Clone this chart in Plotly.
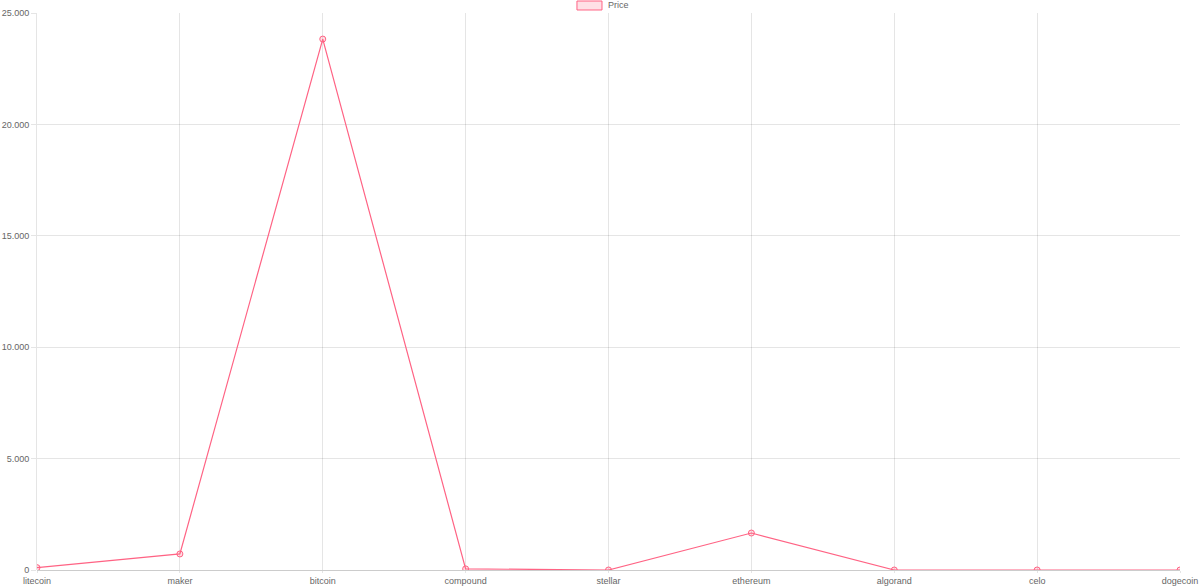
import plotly.graph_objects as go

coins = ['litecoin', 'maker', 'bitcoin', 'compound', 'stellar',
         'ethereum', 'algorand', 'celo', 'dogecoin']
prices = [105, 720, 23830, 50, 0.1, 1660, 0.2, 0.7, 0.07]

pink = 'rgb(255,99,132)'
grid = 'rgba(0,0,0,0.1)'
font = 'Liberation Sans, Arial, sans-serif'

fig = go.Figure()
fig.add_trace(go.Scatter(
    x=coins, y=prices, mode='lines+markers', name='Price',
    line=dict(color=pink, width=1.2),
    marker=dict(size=6, color='rgba(255,99,132,0.2)',
                line=dict(color=pink, width=1)),
    showlegend=False))

# legend box + label above the plot
fig.add_shape(type='rect', xref='paper', yref='paper',
              x0=0.4724, x1=0.4943, y0=1.0054, y1=1.0215,
              line=dict(color=pink, width=1),
              fillcolor='rgba(255,99,132,0.2)')
fig.add_annotation(text='Price', xref='paper', yref='paper',
                   x=0.4978, y=1.0135, xanchor='left', yanchor='middle',
                   showarrow=False, font=dict(family=font, size=9, color='#666'))

fig.update_layout(
    width=1200, height=587,
    margin=dict(l=37, r=20, t=13, b=17),
    paper_bgcolor='white', plot_bgcolor='white',
    separators=',.',
    font=dict(family=font, size=9, color='#666'),
)
fig.update_xaxes(
    range=[0, 8], showgrid=True, gridcolor=grid, gridwidth=1,
    showline=False, zeroline=False,
    ticks='outside', ticklen=2, tickcolor=grid,
    tickfont=dict(size=9, color='#666'), automargin=False)
fig.update_yaxes(
    range=[0, 25000], dtick=5000, tickformat=',d',
    showgrid=True, gridcolor=grid, gridwidth=1,
    zeroline=True, zerolinecolor='rgba(0,0,0,0.2)', zerolinewidth=1,
    showline=True, linecolor=grid, linewidth=1,
    ticks='outside', ticklen=5, tickcolor=grid,
    tickfont=dict(size=9, color='#666'), automargin=False)

# drop the default 8px page margin so the figure sits at the window corner
fig.write_html('out.html', config={'displayModeBar': False},
               post_script="document.body.style.margin='0px';")
